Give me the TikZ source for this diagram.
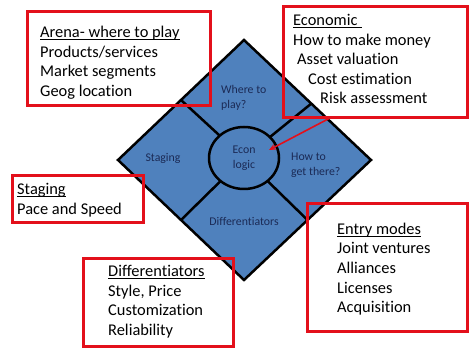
\documentclass[tikz,border=0pt]{standalone}
\usepackage{fontspec}
\setmainfont{Carlito}[Ligatures={NoCommon}]
\usetikzlibrary{arrows.meta,calc}
\definecolor{dblue}{HTML}{4F81BD}
\definecolor{dtext}{HTML}{1B2A55}
\definecolor{rbox}{HTML}{E3101B}
\tikzset{
  redbox/.style={draw=rbox, line width=3pt},
  edge/.style={draw=black, line width=2.5pt},
  bigtxt/.style={anchor=base west, inner sep=0pt, font=\fontsize{16.4}{19}\selectfont, text=black},
  smalltxt/.style={inner sep=0pt, font=\fontsize{11.8}{14.5}\selectfont, text=dtext},
  uline/.style={draw=black, line width=0.9pt},
}
\begin{document}
\begin{tikzpicture}[x=1pt,y=-1pt]
\useasboundingbox[fill=white] (0,0) rectangle (474,355);
% diamond
\coordinate (T) at (244,40);
\coordinate (R) at (371,160);
\coordinate (B) at (244,280);
\coordinate (L) at (118,160);
\coordinate (C) at (244,158);
\fill[dblue] (T) -- (R) -- (B) -- (L) -- cycle;
\draw[edge] ($(T)!0.5!(L)$) -- (C);
\draw[edge] ($(T)!0.53!(R)$) -- (C);
\draw[edge] ($(B)!0.5!(L)$) -- (C);
\draw[edge] ($(B)!0.5!(R)$) -- (C);
\draw[edge, line join=miter] (T) -- (R) -- (B) -- (L) -- cycle;
\draw[edge, fill=dblue] (C) ellipse [x radius=35, y radius=31];
% diamond labels
\node[smalltxt, anchor=west, align=left] (wtp) at (221,98) {Where to\\play?};
\node[smalltxt] (stg) at (163,158) {Staging};
\node[smalltxt, align=center] (econ) at (244,158) {Econ\\logic};
\node[smalltxt, anchor=west, align=left] (hgt) at (291,165) {How to\\get there?};
\node[smalltxt] (dif) at (244,221) {Differentiators};
% red boxes
\draw[redbox] (27,12) rectangle (210,106);
\draw[redbox] (283,7) rectangle (467,118);
\draw[redbox] (12,176) rectangle (143,223);
\draw[redbox] (307,204) rectangle (467,332);
\draw[redbox] (83,259) rectangle (233,347);
% arena
\node[bigtxt] (a1) at (40,38) {Arena- where to play};
\node[bigtxt] (a2) at (40,57.5) {Products/services};
\node[bigtxt] (a3) at (40,77) {Market segments};
\node[bigtxt] (a4) at (40,96.5) {Geog location};
% economic
\node[bigtxt] (e1) at (293,26) {Economic};
\node[bigtxt] (e2) at (293,45.5) {How to make money};
\node[bigtxt] (e3) at (297,65) {Asset valuation};
\node[bigtxt] (e4) at (308,84.5) {Cost estimation};
\node[bigtxt] (e5) at (320,104) {Risk assessment};
% staging
\node[bigtxt] (s1) at (17,195) {Staging};
\node[bigtxt] (s2) at (17,215) {Pace and Speed};
% entry modes
\node[bigtxt] (m1) at (337,234.5) {Entry modes};
\node[bigtxt] (m2) at (337,254) {Joint ventures};
\node[bigtxt] (m3) at (337,274) {Alliances};
\node[bigtxt] (m4) at (337,293.5) {Licenses};
\node[bigtxt] (m5) at (337,313) {Acquisition};
% differentiators
\node[bigtxt] (d1) at (108,277) {Differentiators};
\node[bigtxt] (d2) at (108,296.5) {Style, Price};
\node[bigtxt] (d3) at (108,316) {Customization};
\node[bigtxt] (d4) at (108,335.5) {Reliability};
% underlines
\draw[uline] ($(a1.base west)+(0,1.6)$) -- ($(a1.base east)+(0,1.6)$);
\draw[uline] ($(e1.base west)+(0,1.6)$) -- ($(e1.base east)+(4,1.6)$);
\draw[uline] ($(s1.base west)+(0,1.6)$) -- ($(s1.base east)+(0,1.6)$);
\draw[uline] ($(m1.base west)+(0,1.6)$) -- ($(m1.base east)+(0,1.6)$);
\draw[uline] ($(d1.base west)+(0,1.6)$) -- ($(d1.base east)+(0,1.6)$);
% arrow
\coordinate (as) at (330,118);
\coordinate (ae) at (269,150);
\draw[rbox, line width=1.6pt, -{Stealth[length=7pt,width=6pt]}] (as) -- (ae);
\end{tikzpicture}
\end{document}
